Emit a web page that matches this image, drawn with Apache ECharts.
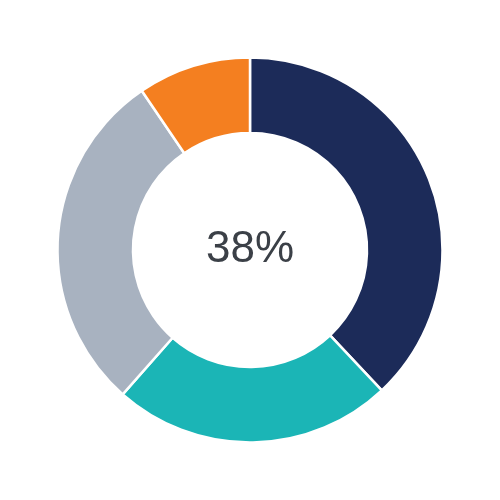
<!DOCTYPE html>
<html>
<head>
<meta charset="utf-8">
<script src="https://cdn.jsdelivr.net/npm/echarts@6/dist/echarts.min.js"></script>
<style>html,body{margin:0;padding:0;background:#fff}#c{width:500px;height:500px}</style>
</head>
<body>
<div id="c"></div>
<script>
var categories = ['A', 'B', 'C', 'D'];
var values = [38, 23.5, 29, 9.5];
var colors = ['#1c2b59', '#1bb5b6', '#a8b2c0', '#f47f20'];
var centerLabel = '38%';

var chart = echarts.init(document.getElementById('c'));
chart.setOption({
  animation: false,
  title: {
    text: centerLabel,
    left: 'center',
    top: 'middle',
    textStyle: { fontFamily: 'Liberation Sans, Arial, sans-serif', fontSize: 44, fontWeight: 'normal', color: '#3b4047' }
  },
  series: [{
    type: 'pie',
    center: ['50%', '50%'],
    radius: ['46.8%', '77%'],
    startAngle: 90,
    clockwise: true,
    label: { show: false },
    labelLine: { show: false },
    itemStyle: { borderColor: '#ffffff', borderWidth: 2.5 },
    emphasis: { disabled: true },
    data: categories.map(function (c, i) {
      return { name: c, value: values[i], itemStyle: { color: colors[i] } };
    })
  }]
});
</script>
</body>
</html>
